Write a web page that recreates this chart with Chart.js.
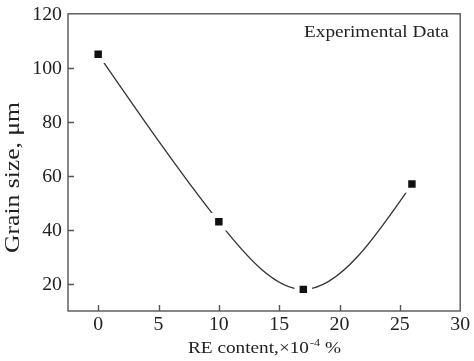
<!DOCTYPE html>
<html>
<head>
<meta charset="utf-8">
<script src="https://cdn.jsdelivr.net/npm/chart.js@4/dist/chart.umd.min.js"></script>
<style>
  html, body { margin: 0; padding: 0; background: #fff; }
</style>
</head>
<body>
<canvas id="myChart" width="474" height="361"></canvas>
<script>
// data
var reContent = [0, 10, 17, 26];
var grainSize = [105, 43, 18, 57];
var xTicks = [0, 5, 10, 15, 20, 25, 30];
var yTicks = [20, 40, 60, 80, 100, 120];

var FONT = '"Liberation Serif", "Times New Roman", serif';
var INK = '#222';
var SX = 1.1; // the text in the picture is a little wide

// slopes of a natural cubic spline through the points
function naturalSlopes(x, y) {
  var n = x.length, h = [], d = [], i;
  for (i = 0; i < n - 1; i++) { h[i] = x[i + 1] - x[i]; d[i] = (y[i + 1] - y[i]) / h[i]; }
  // tridiagonal system for second derivatives, M[0] = M[n-1] = 0
  var a = [], b = [], c = [], r = [], M = [];
  for (i = 1; i < n - 1; i++) {
    a[i] = h[i - 1]; b[i] = 2 * (h[i - 1] + h[i]); c[i] = h[i]; r[i] = 6 * (d[i] - d[i - 1]);
  }
  for (i = 2; i < n - 1; i++) {
    var w = a[i] / b[i - 1];
    b[i] -= w * c[i - 1];
    r[i] -= w * r[i - 1];
  }
  M[0] = 0; M[n - 1] = 0;
  for (i = n - 2; i >= 1; i--) M[i] = (r[i] - c[i] * (M[i + 1] || 0)) / b[i];
  var m = [];
  for (i = 0; i < n - 1; i++) m[i] = d[i] - h[i] * (2 * M[i] + M[i + 1]) / 6;
  m[n - 1] = d[n - 2] + h[n - 2] * (M[n - 2] + 2 * M[n - 1]) / 6;
  return m;
}

// put the spline's control points on the line elements
var splinePlugin = {
  id: 'spline',
  beforeDatasetDraw: function(chart, args) {
    var meta = args.meta;
    var pts = meta.data;
    var xs = chart.scales.x, ys = chart.scales.y;
    meta.dataset.updateControlPoints(chart.chartArea, 'x');
    var m = naturalSlopes(reContent, grainSize);
    for (var i = 0; i < pts.length; i++) {
      var h;
      if (i > 0) {
        h = reContent[i] - reContent[i - 1];
        pts[i].cp1x = xs.getPixelForValue(reContent[i] - h / 3);
        pts[i].cp1y = ys.getPixelForValue(grainSize[i] - m[i] * h / 3);
      }
      if (i < pts.length - 1) {
        h = reContent[i + 1] - reContent[i];
        pts[i].cp2x = xs.getPixelForValue(reContent[i] + h / 3);
        pts[i].cp2y = ys.getPixelForValue(grainSize[i] + m[i] * h / 3);
      }
    }
  }
};

function wideText(ctx, text, x, y, size, align) {
  ctx.save();
  ctx.font = size + 'px ' + FONT;
  var w = ctx.measureText(text).width * SX;
  var left = align === 'center' ? x - w / 2 : (align === 'right' ? x - w : x);
  ctx.translate(left, y);
  ctx.scale(SX, 1);
  ctx.textAlign = 'left';
  ctx.fillText(text, 0, 0);
  ctx.restore();
  return w;
}

// frame, inward ticks, labels, titles and the legend text
var decorPlugin = {
  id: 'decor',
  afterDraw: function(chart) {
    var ctx = chart.ctx;
    var a = chart.chartArea;
    var xs = chart.scales.x, ys = chart.scales.y;
    ctx.save();
    ctx.strokeStyle = '#555';
    ctx.lineWidth = 1.4;
    ctx.strokeRect(a.left, a.top, a.right - a.left, a.bottom - a.top);
    ctx.beginPath();
    xTicks.forEach(function(v) {
      if (v >= 30) return;
      var px = Math.round(xs.getPixelForValue(v)) + 0.5;
      ctx.moveTo(px, a.bottom);
      ctx.lineTo(px, a.bottom - 6);
    });
    yTicks.forEach(function(v) {
      if (v >= 120) return;
      var py = Math.round(ys.getPixelForValue(v)) + 0.5;
      ctx.moveTo(a.left, py);
      ctx.lineTo(a.left + 6, py);
    });
    ctx.stroke();

    ctx.fillStyle = INK;
    ctx.textBaseline = 'middle';
    xTicks.forEach(function(v) {
      wideText(ctx, String(v), xs.getPixelForValue(v), 325, 18, 'center');
    });
    yTicks.forEach(function(v) {
      wideText(ctx, String(v), a.left - 6, ys.getPixelForValue(v) + 1, 18, 'right');
    });

    // legend text
    wideText(ctx, 'Experimental Data', 304, 32, 17.5, 'left');

    // y title, stretched along its length to fit the picture
    ctx.textBaseline = 'alphabetic';
    ctx.save();
    ctx.font = '20px ' + FONT;
    var yt = 'Grain size, \u03bcm';
    var k = 151 / ctx.measureText(yt).width;
    ctx.translate(18.5, 177.5);
    ctx.rotate(-Math.PI / 2);
    ctx.scale(k, 1);
    ctx.textAlign = 'center';
    ctx.fillText(yt, 0, 0);
    ctx.restore();

    // x title with superscript
    var yb = 353;
    var x0 = 188;
    x0 += wideText(ctx, 'RE content,\u00d710', x0, yb, 17.5, 'left');
    x0 += wideText(ctx, '-4', x0 + 1, yb - 7, 11, 'left') + 1;
    wideText(ctx, ' %', x0, yb, 17.5, 'left');
    ctx.restore();
  }
};

var ctx = document.getElementById('myChart').getContext('2d');
var myChart = new Chart(ctx, {
  type: 'scatter',
  data: {
    datasets: [{
      label: 'Experimental Data',
      data: reContent.map(function(x, i) { return { x: x, y: grainSize[i] }; }),
      showLine: true,
      cubicInterpolationMode: 'monotone',
      borderColor: '#333',
      borderWidth: 1.3,
      pointStyle: 'rect',
      pointRadius: 8.8,
      pointBackgroundColor: '#111',
      pointBorderColor: '#fff',
      pointBorderWidth: 5
    }]
  },
  options: {
    responsive: false,
    animation: false,
    layout: { padding: { top: 10, right: 11, left: 0, bottom: 0 } },
    plugins: { legend: { display: false }, tooltip: { enabled: false } },
    scales: {
      x: {
        type: 'linear',
        min: -2.5,
        max: 30,
        afterBuildTicks: function(s) { s.ticks = xTicks.map(function(v) { return { value: v }; }); },
        afterFit: function(s) { s.height = 50; },
        grid: { display: false, drawTicks: false },
        border: { display: false },
        ticks: { display: false }
      },
      y: {
        min: 10,
        max: 120,
        afterBuildTicks: function(s) { s.ticks = yTicks.map(function(v) { return { value: v }; }); },
        afterFit: function(s) { s.width = 68; },
        grid: { display: false, drawTicks: false },
        border: { display: false },
        ticks: { display: false }
      }
    }
  },
  plugins: [splinePlugin, decorPlugin]
});
</script>
</body>
</html>
